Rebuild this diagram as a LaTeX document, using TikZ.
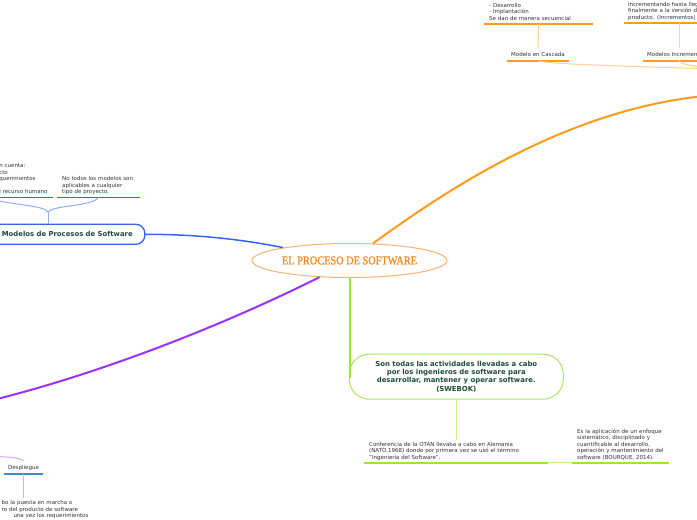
\documentclass[tikz,border=0pt]{standalone}
\usepackage{fontspec}
\usepackage{graphicx}
\setmainfont{DejaVu Sans}
\newfontfamily\titlefont[FakeBold=1.2]{Liberation Serif}
\usetikzlibrary{shapes.geometric}
\definecolor{orgMain}{HTML}{FF9A1A}
\definecolor{orgLight}{HTML}{FFD08A}
\definecolor{orgBorder}{HTML}{F7B26E}
\definecolor{orgTitle}{HTML}{F28A22}
\definecolor{bluMain}{HTML}{3366F0}
\definecolor{bluLight}{HTML}{90ACF7}
\definecolor{purMain}{HTML}{9B30FF}
\definecolor{purLight}{HTML}{DCA6FF}
\definecolor{grnMain}{HTML}{9BE82A}
\definecolor{grnLight}{HTML}{C3F08C}
\definecolor{grnBorder}{HTML}{A8E65F}
\definecolor{tealLine}{HTML}{3A8FC9}
\definecolor{darkTxt}{HTML}{1F4A3A}
\definecolor{grayTxt}{HTML}{333333}
\newcommand\dstr{\rule[-1.6pt]{0pt}{1pt}}
\begin{document}
\begin{tikzpicture}[x=1pt,y=-1pt,
  small/.style={font=\fontsize{5.5}{6.5}\selectfont, text=grayTxt, align=left, inner ysep=1.8pt},
  lbl/.style={font=\fontsize{5.5}{6.5}\selectfont, text=grayTxt, text height=6.2pt, text depth=3pt, inner ysep=1.5pt, inner xsep=4pt},
  boldtxt/.style={font=\fontsize{6.9}{8.2}\selectfont\bfseries, text=darkTxt},
  ul/.style={line width=1.6pt},
  thin/.style={line width=1pt}]
\useasboundingbox (0,0) rectangle (697,520);
\clip (0,0) rectangle (697,520);
\fill[white] (0,0) rectangle (697,520);

% free ends
\coordinate (oEnd) at (700,96.5);
\coordinate (pEnd) at (-3,399);
\coordinate (cEnd) at (700,68.5);
\coordinate (iEnd) at (700,66.8);
\coordinate (iv) at (679,48);
\coordinate (mf) at (48.3,212.5);
\coordinate (lf) at (-12,198);
\coordinate (dIn) at (-3,456.5);

% central topic
\node[ellipse, draw=orgBorder, line width=1pt, fill=white, minimum width=195pt, minimum height=34pt, inner sep=0pt] (center) at (349.5,260.5)
  {\titlefont\fontsize{12}{13}\selectfont\color{orgTitle}\scalebox{0.86}[1]{EL PROCESO DE SOFTWARE}};

% green branch
\node[draw=grnBorder, line width=1pt, fill=white, rounded corners=20pt, minimum width=214pt, minimum height=45pt, align=center, boldtxt] (swebok) at (456.3,376.7)
  {Son todas las actividades llevadas a cabo\\por los ingenieros de software para\\desarrollar, mantener y operar software.\\(SWEBOK)};
\node[small, anchor=south west, inner xsep=5pt, text width=174pt] (conf) at (364,462.7)
  {Conferencia de la OTAN llevaba a cabo en Alemania\\(NATO,1968) donde por primera vez se usó el término\\"Ingeniería del Software".\dstr};
\node[small, anchor=south west, inner xsep=5pt, text width=86.7pt] (aplic) at (572,462.7)
  {Es la aplicación de un enfoque\\sistemático, disciplinado y\\cuantificable al desarrollo,\\operación y mantenimiento del\\software (BOURQUE, 2014).\dstr};

% blue branch
\node[draw=bluMain, line width=1.3pt, fill=white, rounded corners=9pt, minimum height=20pt, text width=133pt, inner xsep=10pt, align=left, boldtxt, anchor=east] (modelos) at (145.5,234.3)
  {Modelos de Procesos de Software};
\node[small, anchor=south west, inner xsep=5pt, text width=73pt] (notodos) at (57,197.3)
  {No todos los modelos son\\aplicables a cualquier\\tipo de proyecto.\dstr};
\node[small, anchor=south east, inner xsep=4pt, text width=49.5pt] (leftT) at (53,197.3)
  {n cuenta:\\cto\\querimientos\\\mbox{}\\l recurso humano\dstr};

% orange branch
\node[lbl, anchor=base, minimum width=62pt] (casc) at (538,56) {Modelo en Cascada};
\node[lbl, anchor=base west] (incr) at (643,56) {Modelos Incremen};
\node[small, anchor=south west, inner xsep=5pt, text width=99pt] (cascT) at (484,24)
  {- Desarrollo\\- Implantación\\Se dan de manera secuencial\dstr};
\node[small, anchor=south west, inner xsep=4pt, text width=100pt] (incrT) at (624,22.7)
  {incrementando hasta lleg\\finalmente a la versión d\\producto. (Incrementos)\dstr};

% purple branch
\node[lbl, anchor=base] (despl) at (23.5,469) {Despliegue};
\node[small, anchor=north west, inner xsep=0pt, inner ysep=3pt, text width=110pt] (desptxt) at (1.5,497.5)
  {bo la puesta en marcha o\\ro del producto de software\\\hspace*{11.8pt}una vez los requerimientos};

% underlines
\draw[ul, orgMain] (casc.south west) -- (casc.south east);
\draw[ul, orgMain] (incr.south west) -- (incr.south east);
\draw[ul, orgMain] (cascT.south west) -- (cascT.south east);
\draw[ul, orgMain] (incrT.south west) -- (incrT.south east);
\draw[ul, bluMain] (notodos.south west) -- (notodos.south east);
\draw[ul, bluMain] (leftT.south west) -- (leftT.south east);
\draw[ul, grnMain] (conf.south west) -- (conf.south east);
\draw[ul, grnMain] (aplic.south west) -- (aplic.south east);
\draw[ul, tealLine] (despl.south west) -- (despl.south east);

% main connectors
\draw[orgMain, line width=2pt] (center.36) .. controls (440,195) and (560,112) .. (oEnd);
\draw[bluMain, line width=1.5pt] (center.169) .. controls (235,238) and (190,234.3) .. (modelos.east);
\draw[purMain, line width=2pt] (center.209) .. controls (220,327) and (100,373) .. (pEnd);
\draw[grnMain, line width=2pt] (center.south) |- (swebok.west);

% thin connectors
\draw[orgLight, thin] (casc.north) -- (cascT.south);
\draw[orgLight, thin] (incr.north -| iv) -- (incrT.south -| iv);
\draw[orgLight, thin] (casc.south) .. controls (545,64) and (620,66) .. (cEnd);
\draw[orgLight, thin] (incr.south -| iv) .. controls (681,64) and (690,65.5) .. (iEnd);
\draw[bluLight, thin] (modelos.north -| mf) -- (mf);
\draw[bluLight, thin] (mf) .. controls (50,205) and (92,207) .. (notodos.south);
\draw[bluLight, thin] (mf) .. controls (46,205) and (8,205) .. (lf);
\draw[grnLight, thin] (swebok.south) -- (swebok.south |- conf.north);
\draw[grnLight, thin] (conf.south east) -- (aplic.south west);
\draw[purLight, thin] (dIn) .. controls (10,457) and (22,458) .. (despl.north);
\draw[purLight, thin] (despl.south) -- (despl.south |- desptxt.north);
\end{tikzpicture}
\end{document}
